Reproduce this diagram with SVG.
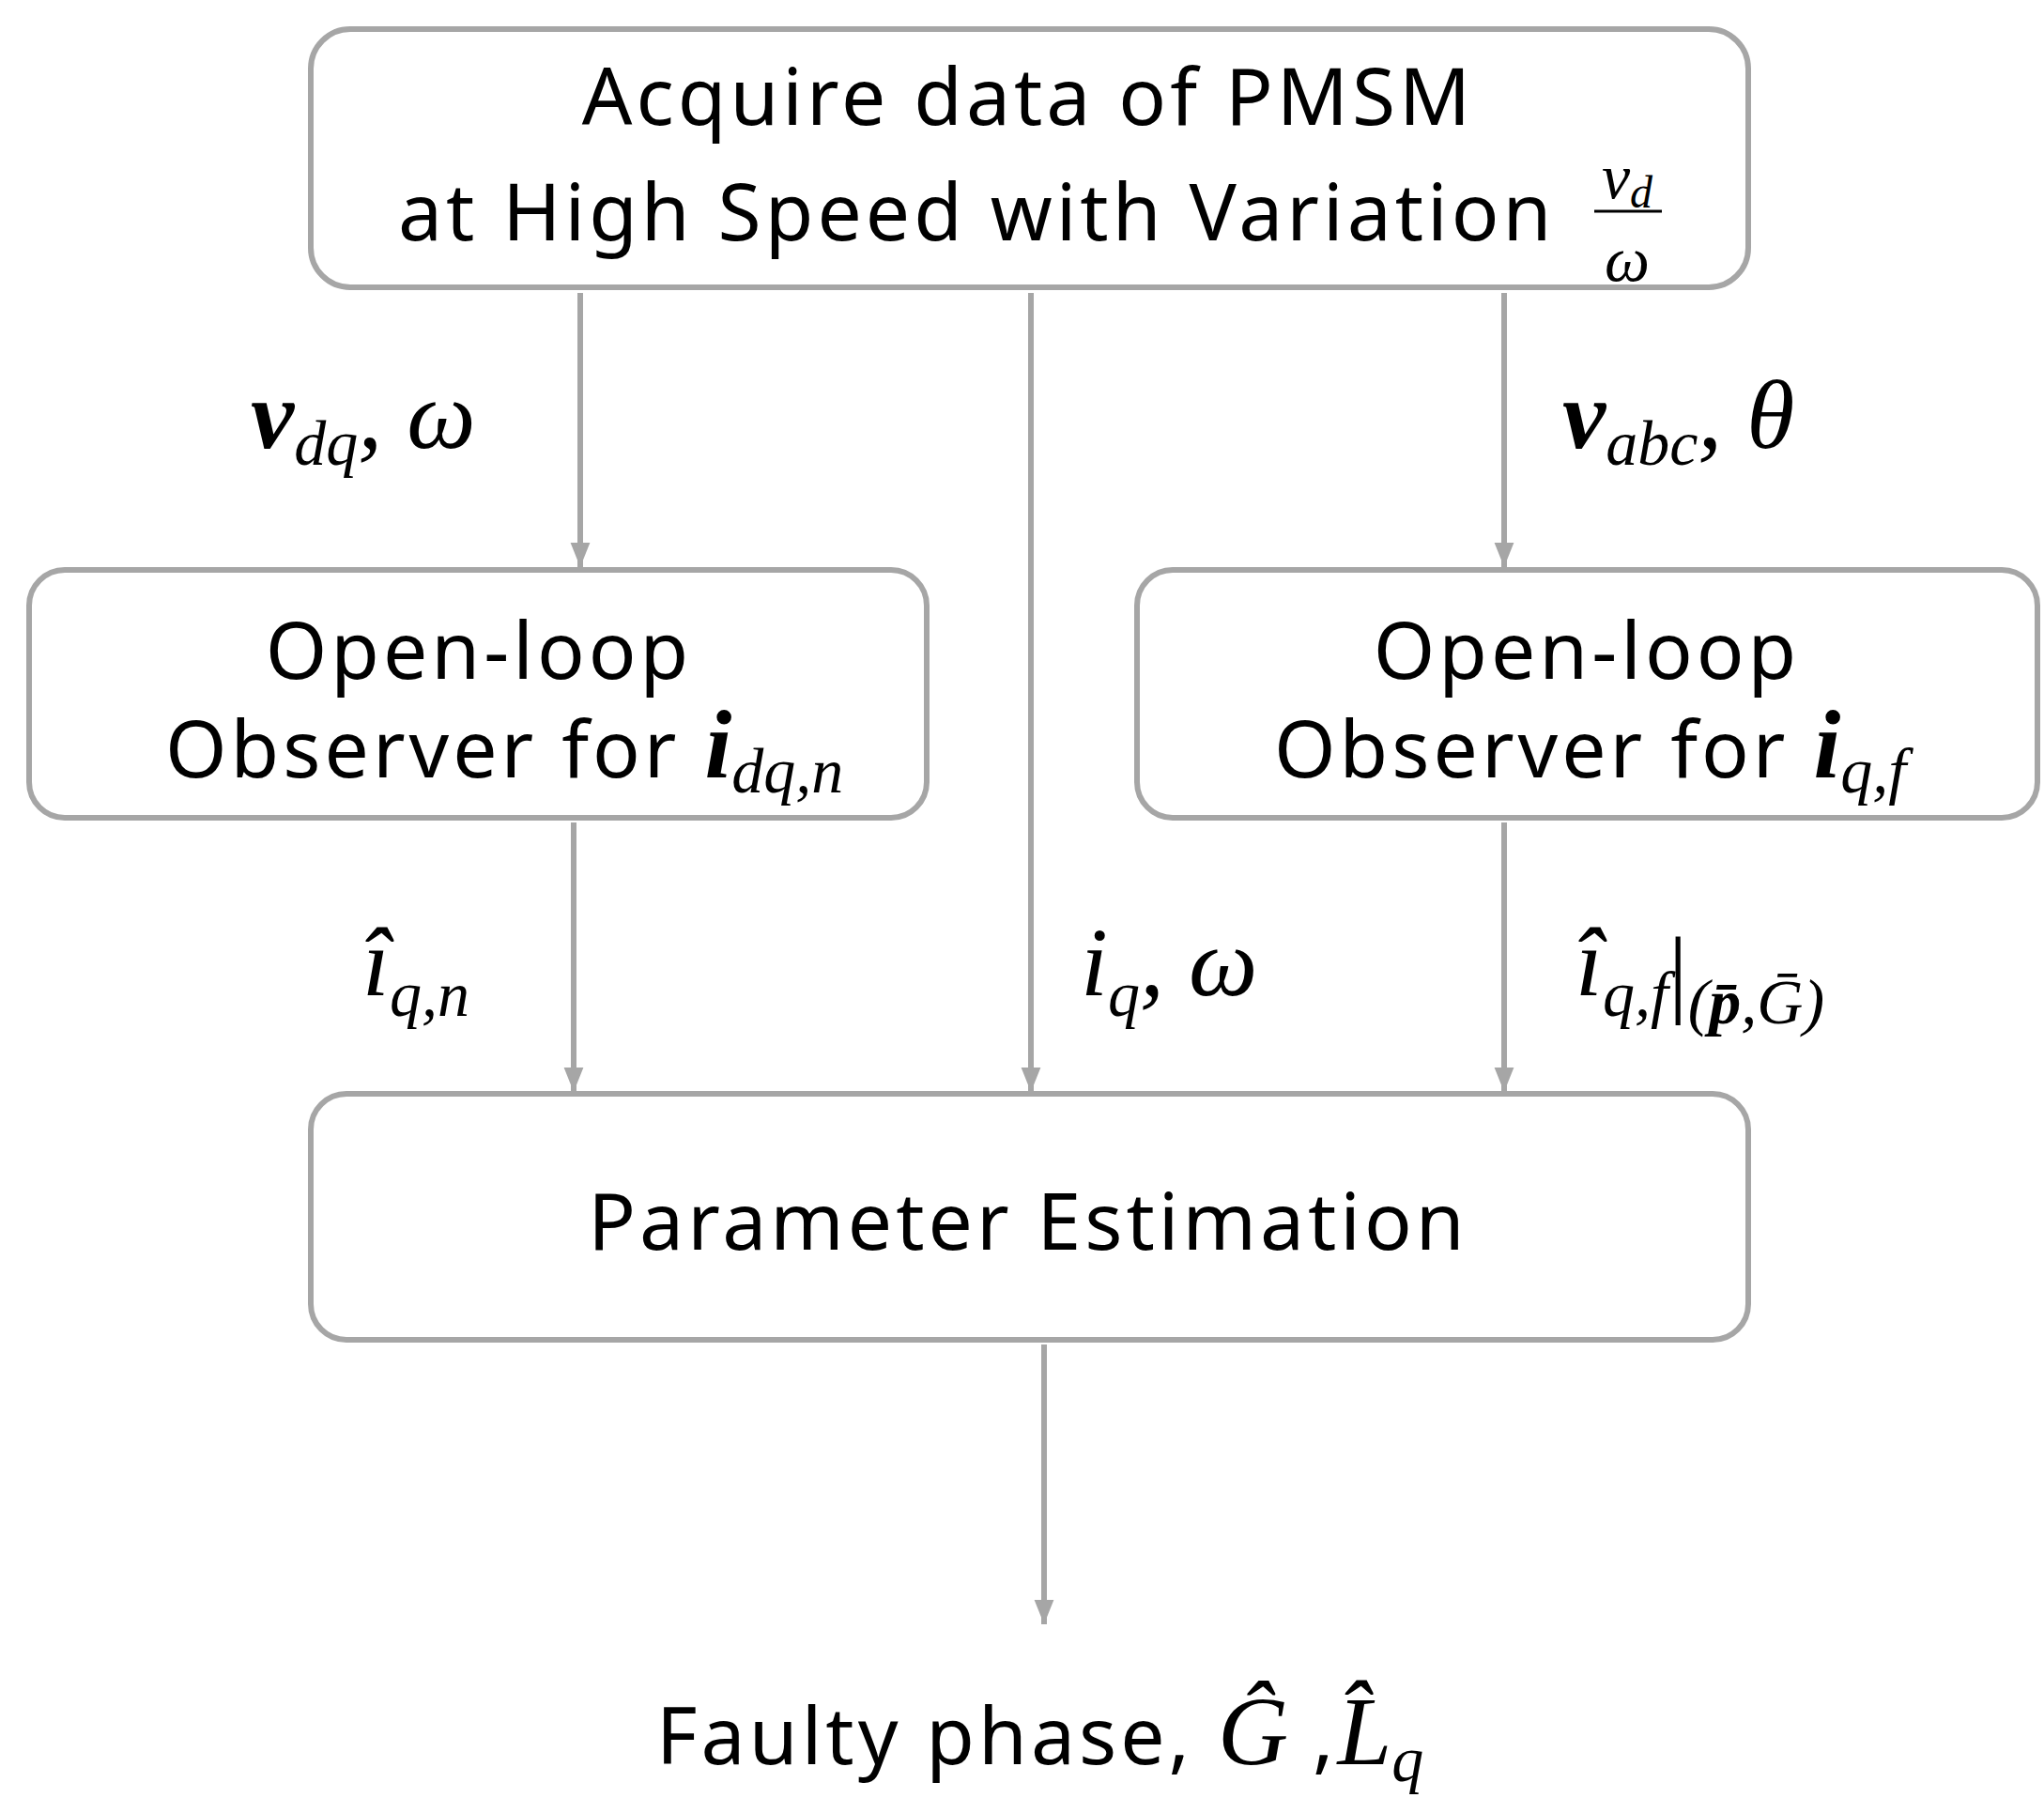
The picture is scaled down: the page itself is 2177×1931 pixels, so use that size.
<svg xmlns="http://www.w3.org/2000/svg" width="2177" height="1931" viewBox="0 0 2177 1931">
<style>
.box{fill:#fff;stroke:#a6a6a6;stroke-width:6}
.t{font-family:"Noto Sans","Open Sans",sans-serif;font-size:84px;fill:#000;letter-spacing:4px}
.m{font-family:"Liberation Serif","DejaVu Serif",serif;font-style:italic;font-size:104px;fill:#000;letter-spacing:0}
.b{font-weight:bold}
.s{font-size:68px}
</style>
<defs>
<marker id="a2" viewBox="0 0 10 10" refX="10" refY="5" markerWidth="26" markerHeight="26" orient="auto" markerUnits="userSpaceOnUse"><path d="M0,1 L10,5 L0,9 z" fill="#a6a6a6"/></marker></defs>
<rect width="2177" height="1931" fill="#fff"/>
<g id="connectors" stroke="#a6a6a6" stroke-width="6" fill="none">
<line x1="618" y1="312" x2="618" y2="604" marker-end="url(#a2)"/>
<line x1="1098" y1="312" x2="1098" y2="1163" marker-end="url(#a2)"/>
<line x1="1602" y1="312" x2="1602" y2="604" marker-end="url(#a2)"/>
<line x1="611" y1="876" x2="611" y2="1163" marker-end="url(#a2)"/>
<line x1="1602" y1="876" x2="1602" y2="1163" marker-end="url(#a2)"/>
<line x1="1112" y1="1432" x2="1112" y2="1730" marker-end="url(#a2)"/>
</g>
<g id="labels">
<text x="267" y="477" class="m"><tspan class="b">v</tspan><tspan class="s" dy="18">dq</tspan><tspan dy="-18">, ω</tspan></text>
<text x="1664" y="477" class="m"><tspan class="b">v</tspan><tspan class="s" dy="18">abc</tspan><tspan dy="-18">,  θ</tspan></text>
<text x="386" y="1060" class="m">î<tspan class="s" dy="22">q,n</tspan></text>
<text x="1151" y="1060" class="m">i<tspan class="s" dy="22">q</tspan><tspan dy="-22">,  ω</tspan></text>
<text x="1678" y="1060" class="m">î<tspan class="s" dy="22">q,f</tspan><tspan dy="-12" font-style="normal">|</tspan><tspan class="s" dy="20">(<tspan font-weight="bold">p̄</tspan>,Ḡ)</tspan></text>
</g>
<g id="top">
<rect class="box" x="331" y="31" width="1531" height="275" rx="42"/>
<text class="t" x="1095" y="133" text-anchor="middle">Acquire data of PMSM</text>
<text class="t" x="424" y="256">at High Speed with Variation</text>
<text class="m s" x="1733" y="211" text-anchor="middle">v<tspan font-size="48" dy="10">d</tspan></text>
<line x1="1698" y1="225" x2="1770" y2="225" stroke="#000" stroke-width="3"/>
<text class="m s" x="1733" y="299" text-anchor="middle">ω</text>
</g>
<g id="obs-n">
<rect class="box" x="31" y="607" width="956" height="264" rx="38"/>
<text class="t" x="510" y="723" text-anchor="middle">Open-loop</text>
<text class="t" x="176" y="828">Observer for <tspan class="m b">i</tspan><tspan class="m s" dy="16">dq,n</tspan></text>
</g>
<g id="obs-f">
<rect class="box" x="1211" y="607" width="959" height="264" rx="38"/>
<text class="t" x="1690" y="723" text-anchor="middle">Open-loop</text>
<text class="t" x="1357" y="828">Observer for <tspan class="m b">i</tspan><tspan class="m s" dy="16">q,f</tspan></text>
</g>
<g id="est">
<rect class="box" x="331" y="1165" width="1531" height="262" rx="38"/>
<text class="t" x="1095" y="1331" text-anchor="middle">Parameter Estimation</text>
</g>
<g id="out">
<text class="t" x="699" y="1879">Faulty phase, <tspan class="m">Ĝ</tspan> ,<tspan class="m">L̂</tspan><tspan class="m s" dy="18">q</tspan></text>
</g>
</svg>
